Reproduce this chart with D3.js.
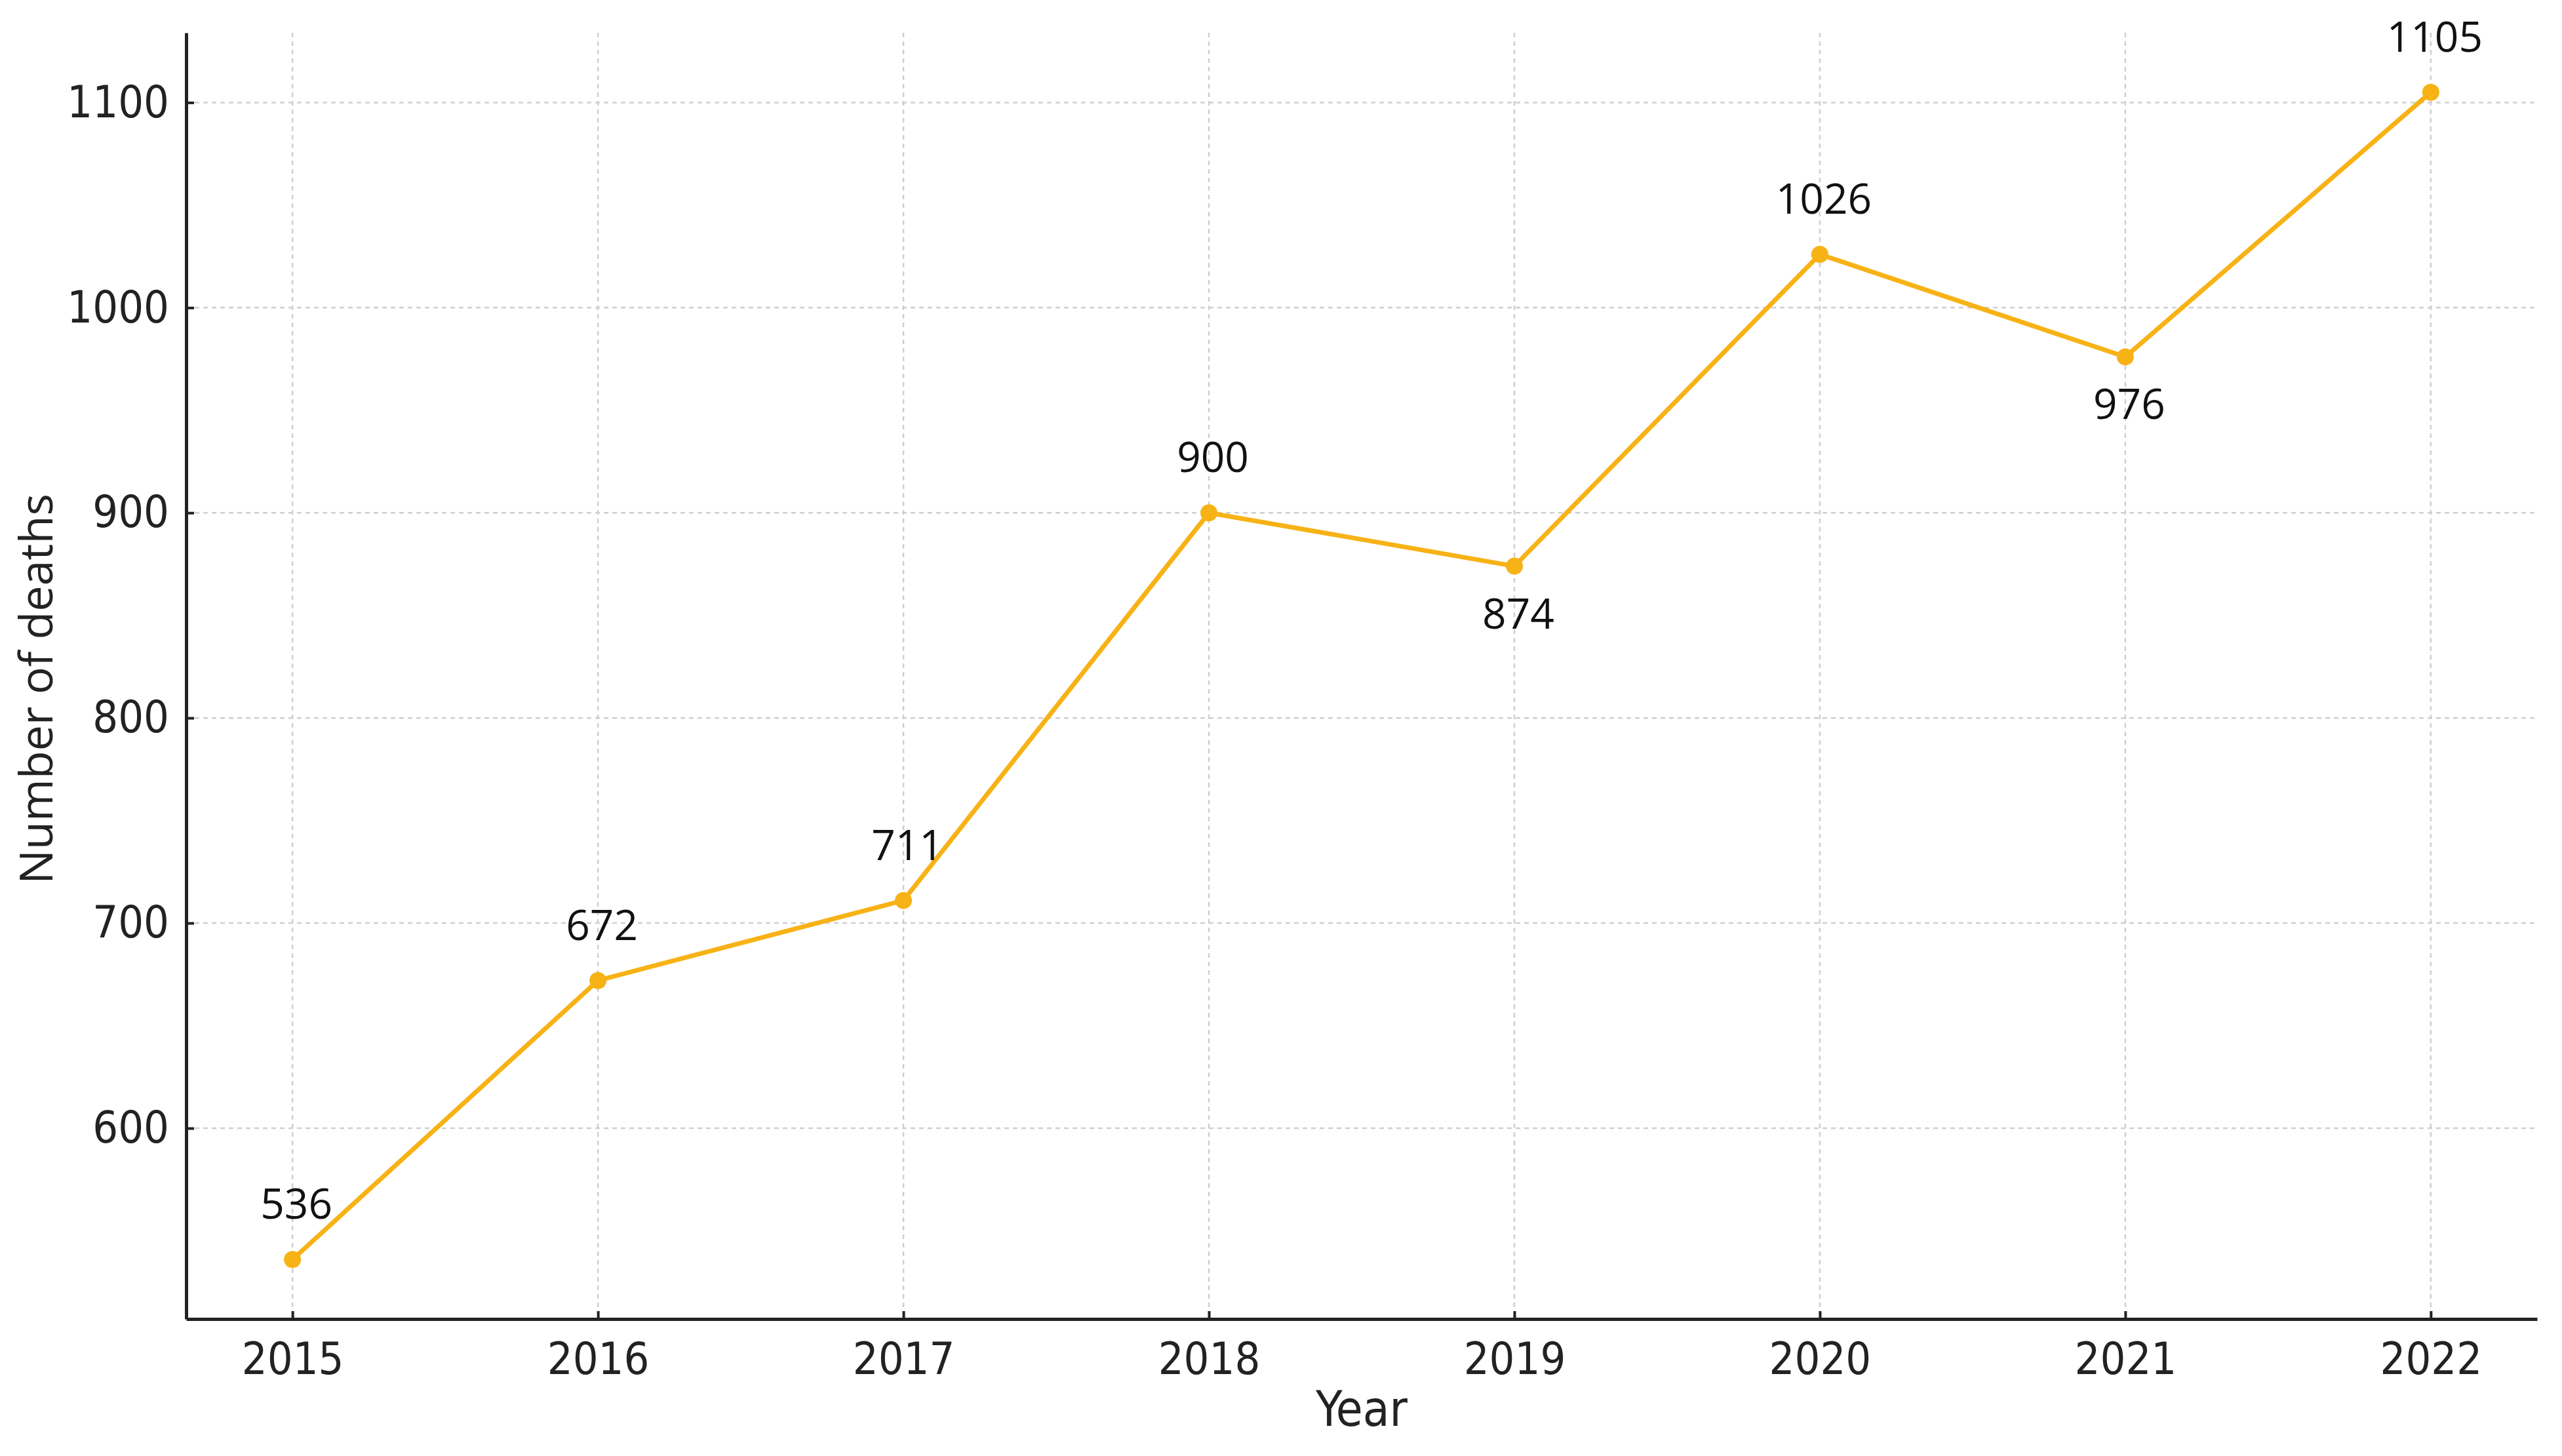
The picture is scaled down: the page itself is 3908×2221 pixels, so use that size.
<!DOCTYPE html>
<html><head><meta charset="utf-8">
<script src="https://cdn.jsdelivr.net/npm/d3@7"></script>
<style>body{margin:0;background:#fff}</style></head>
<body><svg id="c" width="3908" height="2221"></svg>
<script>
const years = [2015,2016,2017,2018,2019,2020,2021,2022];
const deaths = [536,672,711,900,874,1026,976,1105];
const labelBelow = [false,false,false,false,true,false,true,false];
const yTicks = [600,700,800,900,1000,1100];

const svg = d3.select("#c");
const L=284, R=3870, T=50, B=2012;
const x = d3.scaleLinear().domain([2014.652,2022.348]).range([L,R]);
const y = d3.scaleLinear().domain([507,1134]).range([B,T]);
const tickFont = "'Liberation Sans Narrow','DejaVu Sans Condensed','DejaVu Sans',sans-serif";

svg.append("g").selectAll("line").data(yTicks).join("line")
  .attr("x1",L).attr("x2",R).attr("y1",d=>y(d)).attr("y2",d=>y(d))
  .attr("stroke","#cfcfcf").attr("stroke-width",2.5).attr("stroke-dasharray","7,6");
svg.append("g").selectAll("line").data(years).join("line")
  .attr("x1",d=>x(d)).attr("x2",d=>x(d)).attr("y1",T).attr("y2",B)
  .attr("stroke","#cfcfcf").attr("stroke-width",2.5).attr("stroke-dasharray","7,6");

const xa = svg.append("g").attr("transform",`translate(0,${B})`)
  .call(d3.axisBottom(x).tickValues(years).tickFormat(d3.format("d")).tickSize(12).tickPadding(14).tickSizeOuter(0));
const ya = svg.append("g").attr("transform",`translate(${L},0)`)
  .call(d3.axisLeft(y).tickValues(yTicks).tickFormat(d3.format("d")).tickSize(12).tickPadding(14).tickSizeOuter(0));
[xa,ya].forEach(a=>{
  a.select(".domain").attr("stroke","#222").attr("stroke-width",5);
  a.selectAll(".tick line").attr("stroke","#222").attr("stroke-width",4);
  a.selectAll("text").attr("font-family",tickFont).attr("font-size",68).attr("fill","#222");
});
xa.selectAll(".tick line").attr("transform","translate(0,-12)");
ya.selectAll(".tick line").attr("transform","translate(12,0)");
xa.selectAll("text").attr("dy","0.85em");

svg.append("text").attr("x",(L+R)/2).attr("y",2175).attr("text-anchor","middle")
  .attr("font-family",tickFont).attr("font-size",74).attr("fill","#222").text("Year");
svg.append("text").attr("transform",`translate(80,${(T+B)/2+20}) rotate(-90)`).attr("text-anchor","middle")
  .attr("font-family","'Open Sans','DejaVu Sans',sans-serif").attr("font-size",70).attr("fill","#222").text("Number of deaths");

svg.append("path").datum(years.map((yr,i)=>[yr,deaths[i]]))
  .attr("d",d3.line().x(d=>x(d[0])).y(d=>y(d[1])))
  .attr("fill","none").attr("stroke","#F7B215").attr("stroke-width",7);
svg.append("g").selectAll("circle").data(years).join("circle")
  .attr("cx",d=>x(d)).attr("cy",(d,i)=>y(deaths[i])).attr("r",13).attr("fill","#F7B215");

svg.append("g").selectAll("text").data(years).join("text")
  .attr("x",d=>x(d)+6).attr("y",(d,i)=>y(deaths[i])+(labelBelow[i]?95:-62))
  .attr("text-anchor","middle").attr("font-family","'Open Sans','DejaVu Sans',sans-serif")
  .attr("font-size",64).attr("fill","#111").text((d,i)=>deaths[i]);
</script></body></html>
